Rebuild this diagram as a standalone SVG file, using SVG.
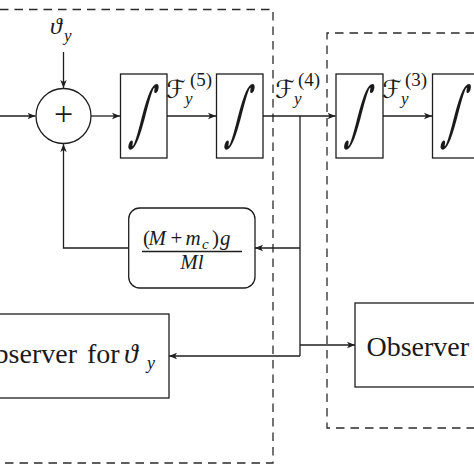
<svg xmlns="http://www.w3.org/2000/svg" width="474" height="474" viewBox="0 0 474 474">
<style>
.ln{fill:none;stroke:#1e1e1e;stroke-width:1.3}
.box{fill:#fff;stroke:#1e1e1e;stroke-width:1.3}
.dash{fill:none;stroke:#2a2a2a;stroke-width:1.3;stroke-dasharray:8.5 6}
.t{font-family:"Liberation Serif",serif;fill:#1a1a1a}
.m{font-family:"Liberation Serif",serif;font-style:italic;fill:#1a1a1a}
.cal{font-family:"DejaVu Sans","DejaVu Serif",serif;font-style:italic;fill:#1a1a1a;font-size:25px}
.int{font-family:"DejaVu Serif",serif;font-size:56px;text-anchor:middle;fill:#1a1a1a}
</style>
<defs>
<marker id="ah" viewBox="0 0 10 10" refX="10" refY="5" markerWidth="8" markerHeight="8" markerUnits="userSpaceOnUse" orient="auto"><path d="M0,1 L10,5 L0,9 L2.5,5 z" fill="#1e1e1e"/></marker>
</defs>
<rect width="474" height="474" fill="#fff"/>

<g id="frames">
<path class="dash" d="M0,9.5 H273 V463 H0"/>
<path class="dash" d="M474,33 H327 V428 H474"/>
</g>

<g id="connectors">
<path class="ln" d="M0,116 H35.5" marker-end="url(#ah)"/>
<path class="ln" d="M63.5,52 V88" marker-end="url(#ah)"/>
<path class="ln" d="M91,116 H120" marker-end="url(#ah)"/>
<path class="ln" d="M167,116 H216" marker-end="url(#ah)"/>
<path class="ln" d="M263,116 H335.5" marker-end="url(#ah)"/>
<path class="ln" d="M383,116 H432" marker-end="url(#ah)"/>
<path class="ln" d="M300,116 V356"/>
<path class="ln" d="M300,248 H255" marker-end="url(#ah)"/>
<path class="ln" d="M300,356 H169" marker-end="url(#ah)"/>
<path class="ln" d="M300,345 H355" marker-end="url(#ah)"/>
<path class="ln" d="M128.7,248 H63.5 V144" marker-end="url(#ah)"/>
</g>

<g id="theta-input">
<text class="m" x="50" y="33.5" font-size="24">ϑ</text>
<text class="m" x="64" y="41" font-size="17">y</text>
</g>

<g id="sum">
<circle class="box" cx="63.5" cy="116" r="27.5"/>
<text class="t" x="63.5" y="124.5" font-size="34" text-anchor="middle">+</text>
</g>

<g id="int1">
<rect class="box" x="120.5" y="74" width="46.5" height="84"/>
<text class="int" transform="translate(143.75,116) skewX(-14) scale(0.6,1.25)" y="16.5">∫</text>
</g>
<g id="int2">
<rect class="box" x="216.5" y="74" width="46.5" height="84"/>
<text class="int" transform="translate(239.75,116) skewX(-14) scale(0.6,1.25)" y="16.5">∫</text>
</g>
<g id="int3">
<rect class="box" x="336" y="74" width="47" height="84"/>
<text class="int" transform="translate(359.5,116) skewX(-14) scale(0.6,1.25)" y="16.5">∫</text>
</g>
<g id="int4">
<rect class="box" x="432.5" y="74" width="50" height="84"/>
<text class="int" transform="translate(456,116) skewX(-14) scale(0.6,1.25)" y="16.5">∫</text>
</g>

<g id="label-F5">
<text class="cal" x="166" y="98">ℱ</text>
<text class="m" x="185" y="104" font-size="17">y</text>
<text class="t" x="190" y="86" font-size="19">(5)</text>
</g>
<g id="label-F4">
<text class="cal" x="275" y="98">ℱ</text>
<text class="m" x="294" y="104" font-size="17">y</text>
<text class="t" x="298" y="86" font-size="19">(4)</text>
</g>
<g id="label-F3">
<text class="cal" x="382" y="98">ℱ</text>
<text class="m" x="401" y="104" font-size="17">y</text>
<text class="t" x="405" y="86" font-size="19">(3)</text>
</g>

<g id="gain">
<rect class="box" x="128.7" y="208" width="126.3" height="80" rx="11"/>
<text font-size="21" y="245"><tspan class="t" x="143">(</tspan><tspan class="m" x="148.5">M</tspan><tspan class="t" x="170.5">+</tspan><tspan class="m" x="185.5">m</tspan><tspan class="m" x="202" y="249" font-size="15">c</tspan><tspan class="t" x="212" y="245">)</tspan><tspan class="m" x="220">g</tspan></text>
<line class="ln" x1="142" y1="251.5" x2="242" y2="251.5"/>
<text class="m" x="192" y="269" font-size="21" text-anchor="middle">Ml</text>
</g>

<g id="observer-left">
<rect class="box" x="-5" y="314" width="174" height="84"/>
<text class="t" x="77" y="363" font-size="28" text-anchor="end">Observer</text>
<text class="t" x="87" y="363" font-size="28">for</text>
<text class="m" x="124" y="363" font-size="28">ϑ</text>
<text class="m" x="147" y="369" font-size="18">y</text>
</g>

<g id="observer-right">
<rect class="box" x="355" y="303" width="130" height="84"/>
<text class="t" x="366.5" y="356" font-size="28">Observer</text>
</g>
</svg>
